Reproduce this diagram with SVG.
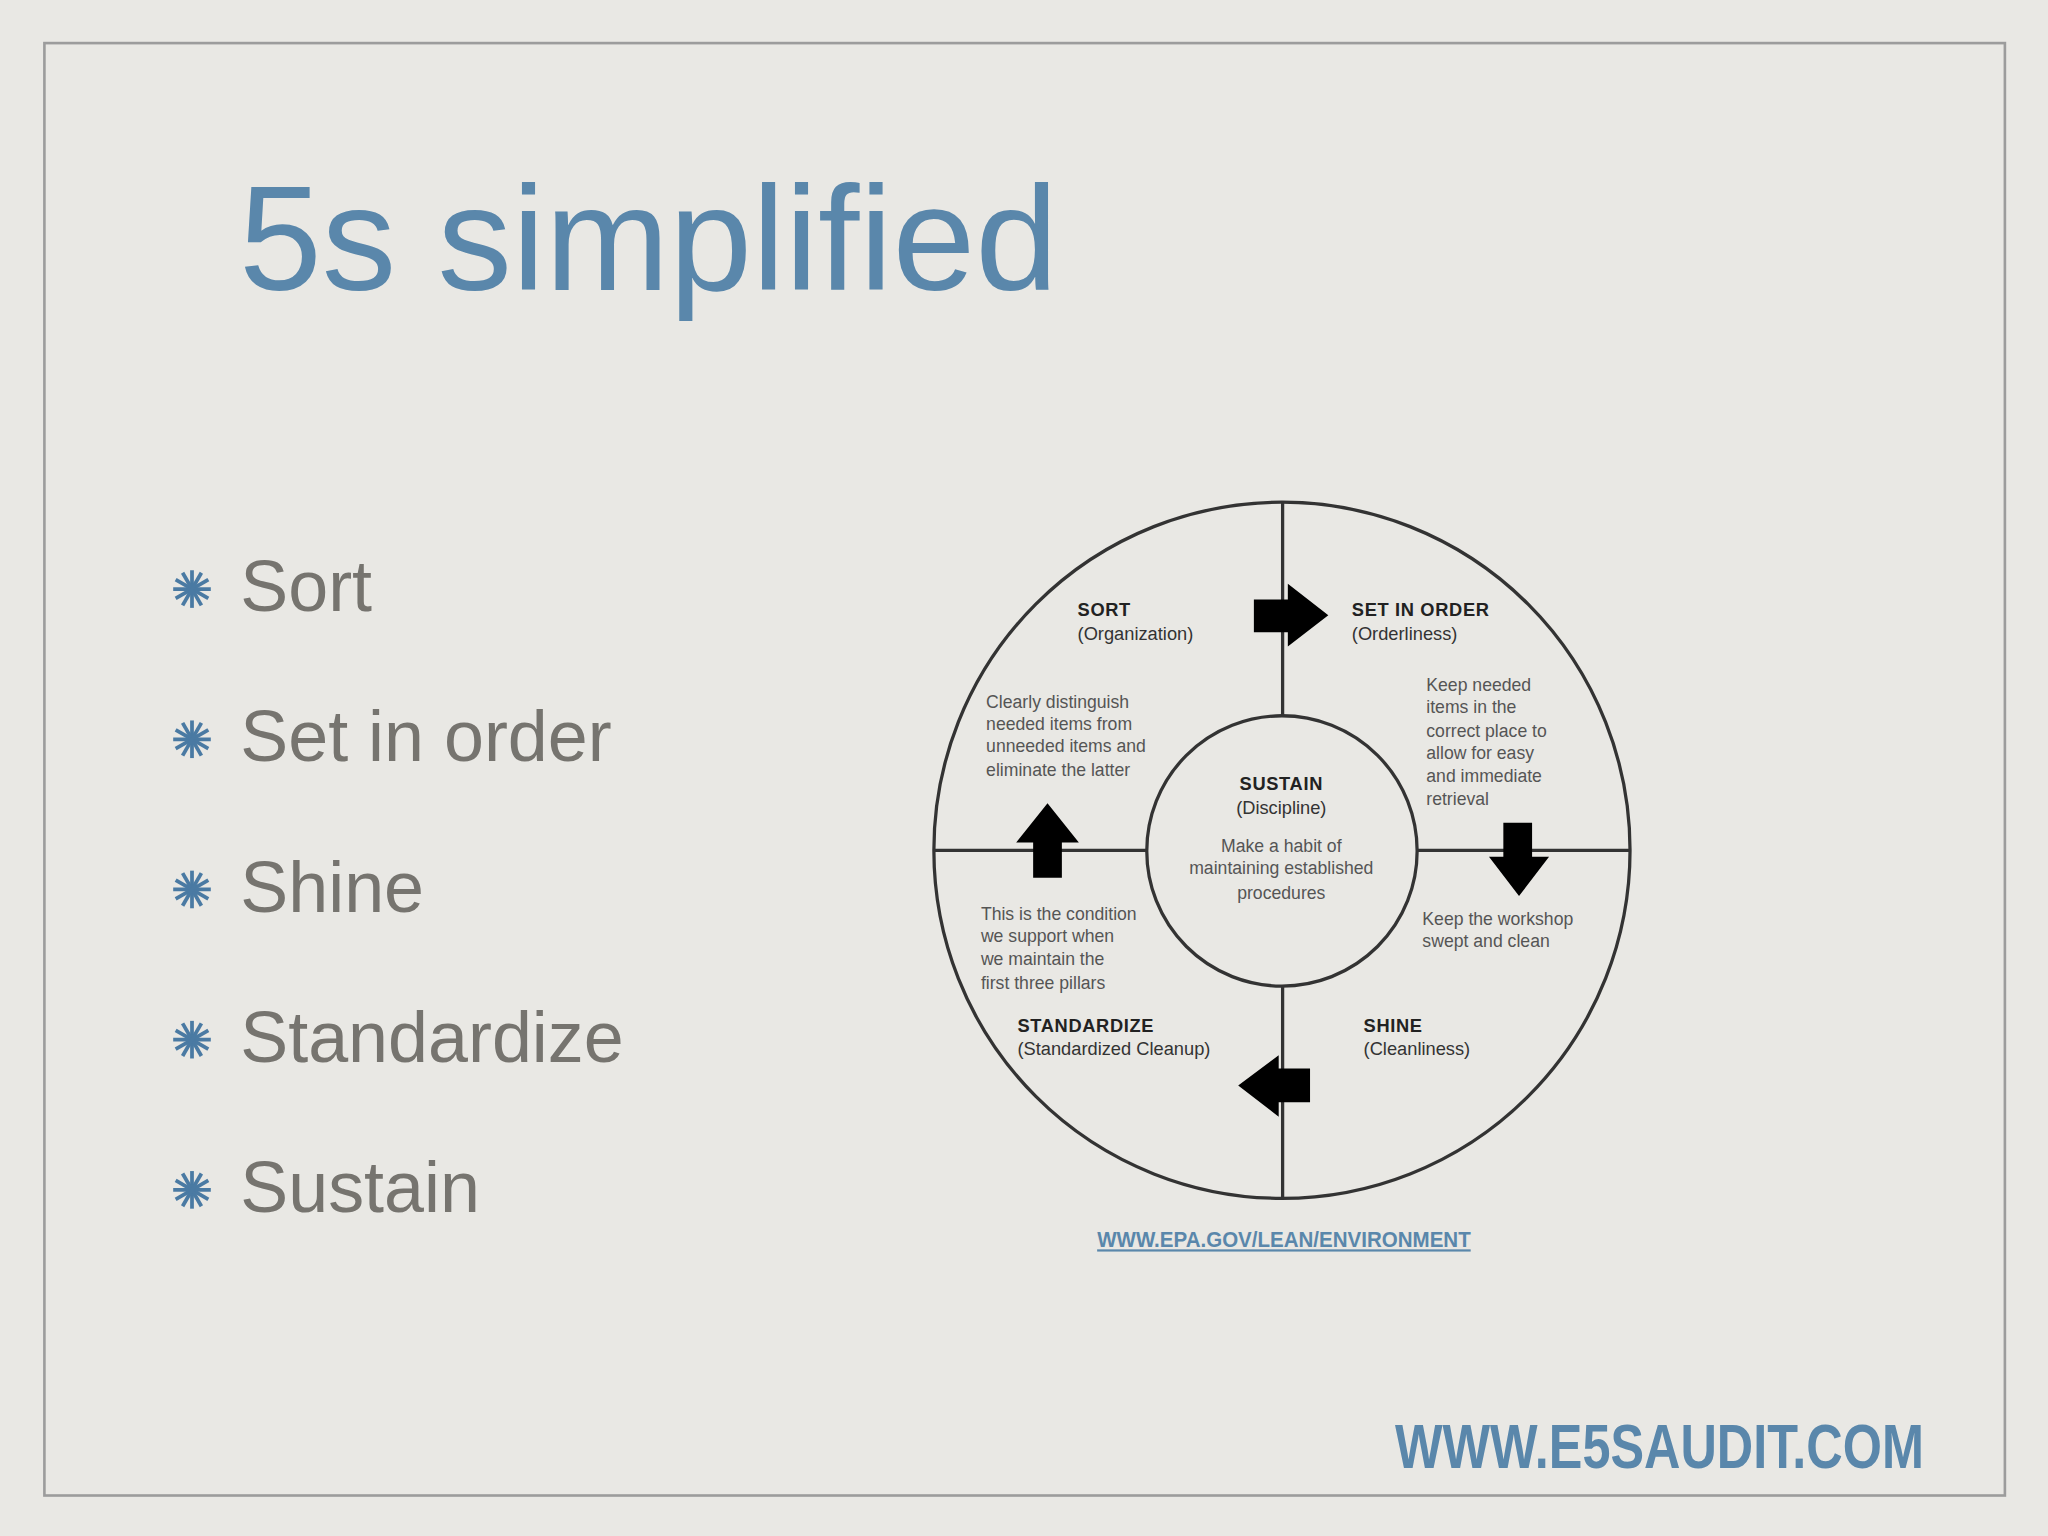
<svg xmlns="http://www.w3.org/2000/svg" width="2048" height="1536" viewBox="0 0 2048 1536">
<style>
.t{font-family:"Liberation Sans",Arial,sans-serif}
.b{font-family:"Liberation Sans",Arial,sans-serif;font-size:55px;fill:#76746f}
.h{font-family:"Liberation Sans",Arial,sans-serif;font-size:14px;font-weight:bold;fill:#222;letter-spacing:0.5px}
.s{font-family:"Liberation Sans",Arial,sans-serif;font-size:14px;fill:#333}
.d{font-family:"Liberation Sans",Arial,sans-serif;font-size:13.5px;fill:#555}
.ln{stroke:#333;stroke-width:2.5;fill:none}
</style>
<defs>
<g id="star" stroke="#4a7aa3" stroke-width="3.2" stroke-linecap="butt">
<line x1="-16" y1="0" x2="16" y2="0"/><line x1="0" y1="-16" x2="0" y2="16"/>
<line x1="-13.9" y1="-8" x2="13.9" y2="8"/><line x1="-13.9" y1="8" x2="13.9" y2="-8"/>
<line x1="-8" y1="-13.9" x2="8" y2="13.9"/><line x1="-8" y1="13.9" x2="8" y2="-13.9"/>
</g>
</defs>
<rect width="2048" height="1536" fill="#e9e8e4"/>
<g transform="scale(1.30612)">
<rect x="34" y="33" width="1501" height="1112" fill="none" stroke="#9c9c9c" stroke-width="2"/>
<text class="t" x="183" y="222" font-size="114" fill="#5a87ab">5s simplified</text>
<g id="bullets">
<use href="#star" transform="translate(147,451) scale(0.9)"/><text class="b" x="184" y="468">Sort</text>
<use href="#star" transform="translate(147,566) scale(0.9)"/><text class="b" x="184" y="583">Set in order</text>
<use href="#star" transform="translate(147,681) scale(0.9)"/><text class="b" x="184" y="698">Shine</text>
<use href="#star" transform="translate(147,796) scale(0.9)"/><text class="b" x="184" y="813">Standardize</text>
<use href="#star" transform="translate(147,911) scale(0.9)"/><text class="b" x="184" y="928">Sustain</text>
</g>
<g id="connectors">
<circle class="ln" cx="981.5" cy="651" r="266.5"/>
<circle class="ln" cx="981.5" cy="651.5" r="103.5"/>
<line class="ln" x1="982" y1="385" x2="982" y2="548"/>
<line class="ln" x1="982" y1="755" x2="982" y2="917"/>
<line class="ln" x1="715" y1="651" x2="878" y2="651"/>
<line class="ln" x1="1085" y1="651" x2="1248" y2="651"/>
<polygon fill="#000" points="960,459 986,459 986,447 1017,471 986,495 986,484 960,484"/>
<polygon fill="#000" points="1151,630 1173,630 1173,656 1186,656 1163,686 1140,656 1151,656"/>
<polygon fill="#000" points="1003,818 1003,844 979,844 979,855 948,831 979,808 979,818"/>
<polygon fill="#000" points="791,672 813,672 813,645 826,645 802,615 778,645 791,645"/>
</g>
<g id="sustain" text-anchor="middle">
<text class="h" x="981" y="605">SUSTAIN</text>
<text class="s" x="981" y="623">(Discipline)</text>
<text class="d" x="981" y="652">Make a habit of</text>
<text class="d" x="981" y="669">maintaining established</text>
<text class="d" x="981" y="688">procedures</text>
</g>
<g id="sort">
<text class="h" x="825" y="472">SORT</text>
<text class="s" x="825" y="490">(Organization)</text>
<text class="d" x="755" y="542">Clearly distinguish</text>
<text class="d" x="755" y="559">needed items from</text>
<text class="d" x="755" y="576">unneeded items and</text>
<text class="d" x="755" y="594">eliminate the latter</text>
</g>
<g id="setinorder">
<text class="h" x="1035" y="472">SET IN ORDER</text>
<text class="s" x="1035" y="490">(Orderliness)</text>
<text class="d" x="1092" y="529">Keep needed</text>
<text class="d" x="1092" y="546">items in the</text>
<text class="d" x="1092" y="564">correct place to</text>
<text class="d" x="1092" y="581">allow for easy</text>
<text class="d" x="1092" y="599">and immediate</text>
<text class="d" x="1092" y="616">retrieval</text>
</g>
<g id="shine">
<text class="d" x="1089" y="708">Keep the workshop</text>
<text class="d" x="1089" y="725">swept and clean</text>
<text class="h" x="1044" y="790">SHINE</text>
<text class="s" x="1044" y="808">(Cleanliness)</text>
</g>
<g id="standardize">
<text class="d" x="751" y="704">This is the condition</text>
<text class="d" x="751" y="721">we support when</text>
<text class="d" x="751" y="739">we maintain the</text>
<text class="d" x="751" y="757">first three pillars</text>
<text class="h" x="779" y="790">STANDARDIZE</text>
<text class="s" x="779" y="808">(Standardized Cleanup)</text>
</g>
<text class="t" x="840" y="955" font-size="17" font-weight="bold" fill="#5a87ab" text-decoration="underline" textLength="286" lengthAdjust="spacingAndGlyphs">WWW.EPA.GOV/LEAN/ENVIRONMENT</text>
<text class="t" x="1068" y="1124" font-size="48" font-weight="bold" fill="#5a87ab" textLength="405" lengthAdjust="spacingAndGlyphs">WWW.E5SAUDIT.COM</text>
</g>
</svg>
